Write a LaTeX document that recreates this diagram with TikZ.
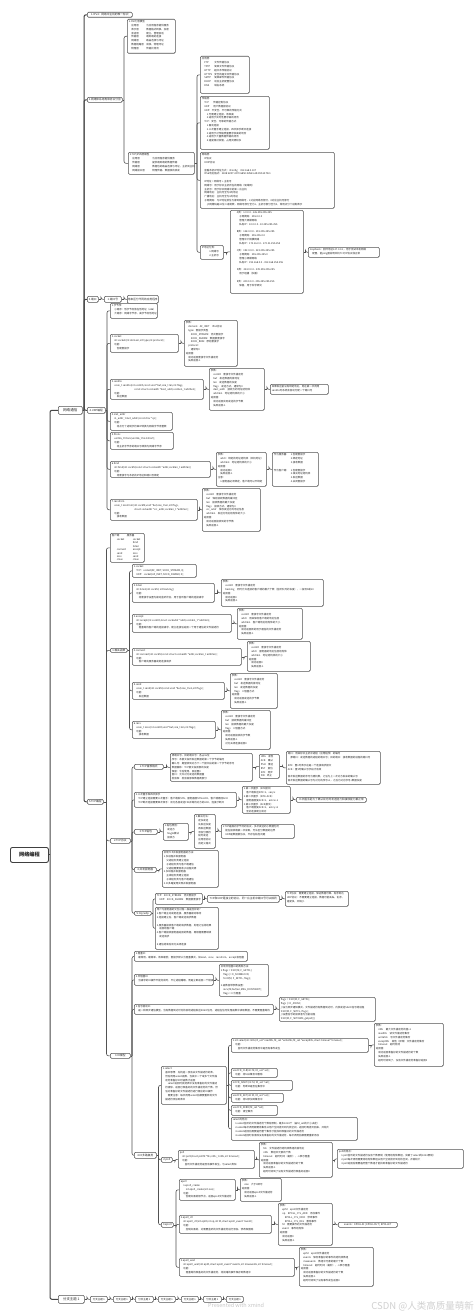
\documentclass[tikz,border=0pt]{standalone}
\usepackage{fontspec}
\setmainfont{Noto Sans CJK SC}
\usetikzlibrary{calc}
\newcommand\idt{\hspace*{1em}}
\newcommand\idtt{\hspace*{2em}}
\newcommand\el{\mbox{}}
\newcommand\mk[2]{\makebox[#1pt][l]{#2}}
\tikzset{
  box/.style={draw=black!68, line width=0.6pt, rounded corners=1.2pt, fill=white, anchor=north west, inner sep=0pt},
  txt/.style={anchor=north west, inner sep=0pt, align=left, text=black!85, font=\fontsize{2.5}{3.8}\selectfont},
  lbl/.style={box, text=black!85, font=\fontsize{2.7}{3}\selectfont},
  conn/.style={draw=black!68, line width=0.6pt},
  trunk/.style={draw=black!72, line width=1pt},
}
\newcommand\bx[7][]{%
  \node[box, minimum width={(#5-#3)*1pt}, minimum height={(#6-#4)*1pt}] (#2) at (#3,#4) {};
  \node[txt,#1] (#2-t) at ([xshift=1.6pt,yshift=-1.5pt]#2.north west) {#7};}
\newcommand\sn[7][]{%
  \node[lbl, minimum width={(#5-#3)*1pt}, minimum height={(#6-#4)*1pt}, #1] (#2) at (#3,#4) {#7};}
\newcommand\tk[2]{\coordinate (#1-k) at (#2,0);}
\newcommand\cn[3][]{%
  \draw[conn,#1] (#2.east) -- (#2.east -| #2-k);
  \draw[conn,rounded corners=2pt,#1] (#2.east -| #2-k) |- (#3.west);}
\begin{document}
\begin{tikzpicture}[x=1pt,y=-1pt]
\fill[white] (0,0) rectangle (474,1314);
\useasboundingbox (0,0) rectangle (474,1314);

% ---------- root and level 1
\node[box, minimum width=38pt, minimum height=15pt, line width=0.9pt, draw=black!75, rounded corners=2pt, font=\fontsize{5.2}{6}\selectfont\bfseries, text=black!85] (root) at (10,847) {网络编程};
\sn[font=\fontsize{3.6}{4}\selectfont]{tx}{58}{406}{82}{414}{网络通信}
\sn[font=\fontsize{3.4}{4}\selectfont]{fz1}{58}{1295}{84}{1303}{分支主题 1}
\sn[font=\fontsize{2.5}{3}\selectfont]{fz2}{90}{1296}{107}{1302}{分支主题 1}
\sn[font=\fontsize{2.5}{3}\selectfont]{fz3}{113}{1296}{130}{1302}{分支主题 1}
\sn[font=\fontsize{2.5}{3}\selectfont]{fz4}{135}{1296}{153}{1302}{分支主题 1}
\sn[font=\fontsize{2.5}{3}\selectfont]{fz5}{158}{1296}{175}{1302}{分支主题 1}
\sn[font=\fontsize{2.5}{3}\selectfont]{fz6}{181}{1296}{198}{1302}{分支主题 1}
\sn[font=\fontsize{2.5}{3}\selectfont]{fz7}{203}{1296}{221}{1302}{分支主题 1}
\sn[font=\fontsize{2.5}{3}\selectfont]{fz8}{226}{1296}{243}{1302}{分支主题 1}

% ---------- level 2
\sn{a1}{87}{12}{132}{17}{1.IPv4：网络中主机的唯一标识}
\sn{a2}{87}{97}{122}{102}{2.网络体系结构和协议分层}
\sn{a3}{87}{296}{98}{302}{3.端口}
\sn{L3}{104}{296}{121}{302}{1.端口号}
\sn{M3}{127}{295}{158}{303}{用来区分不同的应用程序}
\sn{a4}{87}{407}{105}{413}{4.UDP编程}
\sn{a5}{87}{799}{103}{804}{5.TCP编程}

% ---------- network architecture
\bx{B}{127}{19}{175}{53}{1.OSI七层模型\\
\idt\mk{15}{应用层}为应用程序提供服务\\
\idt\mk{15}{表示层}数据格式转换、加密\\
\idt\mk{15}{会话层}建立、管理会话\\
\idt\mk{15}{传输层}端到端的连接\\
\idt\mk{15}{网络层}路由选择与寻址\\
\idt\mk{15}{数据链路层}成帧、物理寻址\\
\idt\mk{15}{物理层}传输比特流}
\bx{D}{128}{152}{194}{174}{2.TCP/IP四层模型\\
\idt\mk{20}{应用层}为应用程序提供服务\\
\idt\mk{20}{传输层}提供端到端的数据传输\\
\idt\mk{20}{网络层}数据包的路由选择与寻址，主机到主机\\
\idt\mk{20}{网络接口层}物理传输、数据帧的收发}
\bx{E}{200}{56}{249}{93}{应用层:\\
\idt\mk{10}{FTP}文件传输协议\\
\idt\mk{10}{TFTP}简单文件传输协议\\
\idt\mk{10}{HTTP}超文本传输协议\\
\idt\mk{10}{HTTPS}安全的超文本传输协议\\
\idt\mk{10}{SMTP}简单邮件传输协议\\
\idt\mk{10}{DHCP}动态主机配置协议\\
\idt\mk{10}{DNS}域名系统}
\bx{F}{200}{96}{269}{149}{传输层:\\
\idt\mk{9}{TCP}传输控制协议\\
\idt\mk{9}{UDP}用户数据报协议\\
\idt UDP：不安全、不可靠的传输方式\\
\idtt 1.无需建立连接，效率高\\
\idtt 2.适用于实时性要求高的场合\\
\idt TCP：安全、可靠的传输方式\\
\idtt 1.面向连接\\
\idtt 2.三次握手建立连接，四次挥手断开连接\\
\idtt 3.适用于对传输质量要求较高的场合\\
\idtt 4.适用于大量数据传输的场合\\
\idtt 5.速度相对较慢，占用资源较多}
\bx{G}{200}{152}{334}{208}{网络层:\\
\idt IP协议\\
\idt ICMP协议\\
\el\\
\idt 查看本机IP地址方式：ifconfig　192.168.0.107\\
\idt IPv6地址格式：2408:8207:2470:6850:4d58:a1b3:b514:f3c1\\
\el\\
\idt IP地址 = 网络号 + 主机号\\
\idt 网络号：用于标识主机所在的网络（局域网）\\
\idt 主机号：用于标识网络中的某一台主机\\
\idt 网络地址：主机号全为0的地址\\
\idt 广播地址：主机号全为1的地址\\
\idt 子网掩码：与IP地址按位与得到网络号，1对应网络号部分，0对应主机号部分\\
\idtt 子网掩码是32位二进制数，网络号部分全为1，主机号部分全为0，常用点分十进制表示}
\bx{I}{200}{245}{223}{259}{IP地址分类：\\
\hspace*{3em}1.网络号\\
\hspace*{3em}2.主机号}
\bx{H}{230}{210}{303}{293}{\idtt A类：1.0.0.0 - 126.255.255.255\\
\hspace*{3em}子网掩码：255.0.0.0\\
\hspace*{3em}管理大规模网络\\
\hspace*{3em}私有IP：10.0.0.0 - 10.255.255.255\\
\el\\
\idtt B类：128.0.0.0 - 191.255.255.255\\
\hspace*{3em}子网掩码：255.255.0.0\\
\hspace*{3em}管理中大规模网络\\
\hspace*{3em}私有IP：172.16.0.0 - 172.31.255.255\\
\el\\
\idtt C类：192.0.0.0 - 223.255.255.255\\
\hspace*{3em}子网掩码：255.255.255.0\\
\hspace*{3em}管理小规模网络\\
\hspace*{3em}私有IP：192.168.0.0 - 192.168.255.255\\
\el\\
\idtt D类：224.0.0.0 - 239.255.255.255\\
\hspace*{3em}用于组播（多播）\\
\el\\
\idtt E类：240.0.0.0 - 255.255.255.255\\
\hspace*{3em}保留，用于科学研究}
\bx{J}{308}{247}{379}{257}{loopback：回环地址127.0.0.1，用于测试本机网络\\
\idt 配置，能ping通说明本机TCP/IP协议栈正常}

% ---------- UDP programming
\bx{N}{110}{303}{157}{318}{1.字节序：\\
\idt 小端序：低字节存放在低地址（x86）\\
\idt 大端序：网络字节序，高字节存低地址}
\bx{S2}{110}{334}{178}{352}{2.socket\\
\idt int socket(int domain,int type,int protocol);\\
\idt 功能：\\
\idtt 创建套接字}
\bx{P2}{184}{320}{237}{366}{参数：\\
\idt domain：AF\_INET　IPv4协议\\
\idt type：套接字类型\\
\idtt SOCK\_STREAM：流式套接字\\
\idtt SOCK\_DGRAM：数据报套接字\\
\idtt SOCK\_RAW：原始套接字\\
\idt protocol：\\
\idtt 通常写0\\
返回值：\\
\idt 成功返回套接字文件描述符\\
\idt 失败返回-1}
\bx{S3}{110}{379}{203}{399}{3.sendto\\
\idt ssize\_t sendto(int sockfd,const void *buf,size\_t len,int flags,\\
\hspace*{9em}const struct sockaddr *dest\_addr,socklen\_t addrlen);\\
\idt 功能：\\
\idtt 发送数据}
\bx{P3}{209}{368}{264}{410}{参数：\\
\idt sockfd　套接字文件描述符\\
\idt buf　发送数据的首地址\\
\idt len　发送数据的长度\\
\idt flags　发送方式，通常为0\\
\idt dest\_addr　接收方的地址结构体\\
\idt addrlen　地址结构体的大小\\
返回值：\\
\idt 成功返回实际发送的字节数\\
\idt 失败返回-1}
\bx{Q3}{270}{384}{328}{394}{如果发送前没有绑定地址，则在第一次调用\\
sendto时系统会自动分配一个端口号}
\bx{S4}{110}{412}{172}{430}{4.inet\_addr\\
\idt in\_addr\_t inet\_addr(const char *cp);\\
\idt 功能：\\
\idtt 将点分十进制字符串IP转换为网络字节序整数}
\bx{S5}{110}{432}{173}{449}{5.htons\\
\idt uint16\_t htons(uint16\_t hostshort);\\
\idt 功能：\\
\idtt 将主机字节序的端口号转换为网络字节序}
\bx{S6}{110}{461}{210}{477}{6.bind\\
\idt int bind(int sockfd,const struct sockaddr *addr,socklen\_t addrlen);\\
\idt 功能：\\
\idtt 将套接字与本机的IP地址和端口号绑定}
\bx{P6}{216}{452}{266}{486}{参数：\\
\idt addr：绑定的地址结构体（本机地址）\\
\idt addrlen：地址结构体的大小\\
返回值：\\
\idt 成功返回0\\
\idt 失败返回-1\\
注意：\\
\idt 1.服务器必须绑定，客户端可以不绑定}
\bx{Q6}{272}{452}{318}{486}{\mk{17}{作为服务器：}1.创建套接字\\
\hspace*{17pt}2.绑定地址\\
\hspace*{17pt}3.接收数据\\
\el\\
\mk{17}{作为客户端：}1.创建套接字\\
\hspace*{17pt}2.填充地址结构体\\
\hspace*{17pt}3.发送数据\\
\hspace*{17pt}4.关闭套接字}
\bx{S7}{110}{499}{197}{520}{7.recvfrom\\
\idt ssize\_t recvfrom(int sockfd,void *buf,size\_t len,int flags,\\
\hspace*{9em}struct sockaddr *src\_addr,socklen\_t *addrlen);\\
\idt 功能：\\
\idtt 接收数据}
\bx{P7}{202}{488}{260}{531}{参数：\\
\idt sockfd　套接字文件描述符\\
\idt buf　保存接收数据的缓冲区\\
\idt len　接收数据的最大长度\\
\idt flags　接收方式，通常为0\\
\idt src\_addr　保存发送方的地址信息\\
\idt addrlen　发送方地址结构体的大小\\
返回值：\\
\idt 成功返回接收到的字节数\\
\idt 失败返回-1}

% ---------- TCP programming
\bx[font=\fontsize{2.5}{3.45}\selectfont]{tbl}{110}{533}{144}{562}{\mk{15}{客户端}服务器\\
\hspace*{5pt}\mk{16}{socket}socket\\
\hspace*{21pt}bind\\
\hspace*{21pt}listen\\
\hspace*{5pt}\mk{16}{connect}accept\\
\hspace*{5pt}\mk{16}{send}recv\\
\hspace*{5pt}\mk{16}{recv}send\\
\hspace*{5pt}\mk{16}{close}close}
\sn{srv}{110}{648}{127}{652}{1.相关函数}
\bx{f1}{132}{564}{196}{577}{1.socket\\
\idt TCP：socket(AF\_INET, SOCK\_STREAM, 0);\\
\idt UDP：socket(AF\_INET, SOCK\_DGRAM, 0);}
\bx{f2}{132}{583}{214}{602}{2.listen\\
\idt int listen(int sockfd, int backlog);\\
\idt 功能：\\
\idtt 将套接字设置为被动监听状态，用于监听客户端的连接请求}
\bx{g2}{221}{579}{323}{606}{参数：\\
\idt sockfd　套接字文件描述符\\
\idt backlog　同时允许连接的客户端的最大个数（监听队列的长度），一般写5或10\\
返回值：\\
\idt 成功返回0\\
\idt 失败返回-1}
\bx{f3}{132}{614}{231}{632}{3.accept\\
\idt int accept(int sockfd,struct sockaddr *addr,socklen\_t *addrlen);\\
\idt 功能：\\
\idtt 阻塞等待客户端的连接请求，建立连接后返回一个用于通信的文件描述符}
\bx{g3}{237}{608}{302}{639}{参数：\\
\idt sockfd　套接字文件描述符\\
\idt addr　用来保存客户端的地址信息\\
\idt addrlen　客户端地址结构体的大小\\
返回值：\\
\idt 成功返回新的用于通信的文件描述符\\
\idt 失败返回-1}
\bx{f4}{132}{648}{241}{665}{4.connect\\
\idt int connect(int sockfd,const struct sockaddr *addr,socklen\_t addrlen);\\
\idt 功能：\\
\idtt 客户端向服务器发起连接请求}
\bx{g4}{247}{641}{310}{671}{参数：\\
\idt sockfd　套接字文件描述符\\
\idt addr　服务器的地址信息结构体\\
\idt addrlen　地址结构体的大小\\
返回值：\\
\idt 成功返回0\\
\idt 失败返回-1}
\bx{f5}{132}{682}{224}{699}{5.send\\
\idt ssize\_t send(int sockfd,const void *buf,size\_t len,int flags);\\
\idt 功能：\\
\idtt 发送数据}
\bx{g5}{230}{673}{277}{708}{参数：\\
\idt sockfd　套接字文件描述符\\
\idt buf　发送数据的首地址\\
\idt len　发送数据的长度\\
\idt flags　0 阻塞方式\\
返回值：\\
\idt 成功返回发送的字节数\\
\idt 失败返回-1}
\bx{f6}{132}{721}{215}{738}{6.recv\\
\idt ssize\_t recv(int sockfd,void *buf,size\_t len,int flags);\\
\idt 功能：\\
\idtt 接收数据}
\bx{g6}{221}{710}{270}{749}{参数：\\
\idt sockfd　套接字文件描述符\\
\idt buf　接收数据的缓冲区\\
\idt len　接收数据的最大长度\\
\idt flags　0 阻塞方式\\
返回值：\\
\idt 成功返回接收的字节数\\
\idt 失败返回-1\\
\idt 对方关闭连接返回0}

\sn{R}{110}{838}{130}{843}{2.TCP协议}
\sn{T1}{134}{764}{163}{769}{1.TCP首部格式}
\bx{X1}{170}{753}{252}{781}{源端口号、目的端口号：各占16位\\
序号：本报文段所发送数据的第一个字节的编号\\
确认号：期望收到对方下一个报文段的第一个字节的序号\\
数据偏移：TCP报文段首部的长度\\
保留：今后使用，目前置0\\
窗口：允许对方发送的数据量\\
检验和：检验首部和数据两部分}
\bx{X2}{259}{754}{279}{778}{URG　紧急\\
ACK　确认\\
PSH　推送\\
RST　复位\\
SYN　同步\\
FIN　终止}
\bx{X3}{286}{751}{380}{784}{端口：用来标识主机中进程（应用程序）的编号\\
\idt 源端口：发送数据的进程的端口号；目的端口：接收数据的进程的端口号\\
\el\\
SYN：置1时表示这是一个连接请求报文\\
ACK：置1时确认号字段才有效\\
\el\\
首次发送数据的序号为随机数，之后为上一次对方发来的确认号\\
首次发送数据的确认号为对方的序号+1，之后为对方序号+数据长度}
\bx{T2}{134}{792}{236}{807}{2.三次握手和四次挥手\\
\idt TCP建立连接需要三次握手：客户端发SYN，服务器回SYN+ACK，客户端再回ACK\\
\idt TCP断开连接需要四次挥手：双方各自发送FIN并等待对方的ACK，连接才断开}
\bx{Y2a}{242}{786}{290}{813}{1.第一次握手（SYN报文）\\
\idt 客户端发送SYN=1，seq=x\\
2.第二次握手（SYN+ACK）\\
\idt 服务器回复ACK=1，ack=x+1\\
3.第三次握手（ACK报文）\\
\idt 客户端回复ACK=1，ack=y+1\\
\idt 至此连接建立成功}
\sn{Y2b}{296}{797}{366}{802}{三次握手是为了确认双方的发送能力和接收能力都正常}
\sn{T3}{134}{829}{157}{834}{3.TCP粘包}
\bx{Z3a}{163}{823}{188}{840}{1.粘包原因：\\
\idt 发送方\\
\idt Nagle算法\\
\idt 接收方}
\bx{Z3b}{194}{814}{215}{848}{2.解决方法：\\
\idt 定长发送\\
\idt 先发送长度\\
\idt 再发送数据\\
\idt 添加分隔符\\
\idt 延时发送\\
\idt 应用层协议\\
\idt 自定义格式}
\bx{Z3c}{221}{824}{294}{838}{1.TCP是面向字节流的协议，多次发送的小数据包可\\
\idt 能在接收端被一次读取，无法区分数据的边界\\
\idt UDP是数据报协议，不存在粘包问题}
\sn{T4}{134}{867}{156}{872}{4.并发服务器}
\bx{Z4}{162}{850}{218}{887}{实现TCP并发服务器的方法：\\
1.多进程并发服务器\\
\idt 父进程负责建立连接\\
\idt 子进程负责与客户端通信\\
\idt 父进程需要回收子进程资源\\
2.多线程并发服务器\\
\idt 主线程负责建立连接\\
\idt 子线程负责与客户端通信\\
3.IO多路复用实现并发服务器}
\sn{T5}{134}{911}{151}{915}{5.tcp/udp}
\bx{T5a}{155}{893}{202}{904}{TCP：SOCK\_STREAM　流式套接字\\
\idt UDP：SOCK\_DGRAM　数据报套接字}
\sn{T5b}{207}{895}{279}{902}{TCP和UDP是独立的协议，同一台主机中端口号可以相同}
\bx{T5c}{285}{891}{348}{906}{TCP协议：需要建立连接，保证数据可靠、有序到达\\
UDP协议：不需要建立连接，数据可能丢失、乱序，\\
速度快，开销小}
\bx{T5d}{155}{907}{218}{949}{用户与服务器的交互过程一般是怎样的？\\
1.客户端主动发起连接，服务器被动等待\\
2.连接建立后，客户端发送请求数据\\
\el\\
3.服务器接收客户端的请求数据，处理之后将结果\\
\idt 返回给客户端\\
4.客户端接收服务器返回的数据，再根据需要继续\\
\idt 发送请求\\
\el\\
5.通信结束后双方关闭连接}

% ---------- IO models
\sn{S}{110}{1053}{130}{1058}{3.IO模型}
\bx{U1}{134}{951}{247}{961}{1.阻塞IO\\
\idt 最常用、最简单、效率最低；套接字默认为阻塞模式，如read、recv、recvfrom、accept会阻塞}
\bx{U2}{134}{974}{213}{985}{2.非阻塞IO\\
\idt 当请求的IO操作不能完成时，不让进程睡眠，而是立即返回一个错误}
\bx{U2a}{219}{964}{268}{996}{实现非阻塞IO的两种方法：\\
1.flags = fcntl(fd, F\_GETFL);\\
\idt flags |= O\_NONBLOCK;\\
\idt fcntl(fd, F\_SETFL, flags);\\
\el\\
2.函数自带参数设置：\\
\idt recv(fd,buf,len,MSG\_DONTWAIT);\\
\idt flags = 0 为阻塞}
\bx{U3}{134}{1004}{273}{1014}{3.信号驱动IO\\
\idt 是一种异步通信模型，当有数据到达时内核会给进程发送SIGIO信号，进程在信号处理函数中读取数据，不需要阻塞等待}
\bx{U3a}{279}{997}{375}{1021}{flags = fcntl(fd, F\_GETFL);\\
flags |= O\_ASYNC;\\
//设为异步通知模式，文件描述符有数据到达时，内核发送SIGIO信号给进程\\
fcntl(fd, F\_SETFL, flags);\\
//设置信号的接收者为当前进程\\
fcntl(fd, F\_SETOWN, getpid());}
\sn{U4}{134}{1152}{156}{1158}{4.IO多路复用}
\bx{V1}{161}{1066}{226}{1104}{1.select\\
\idt 基本思想：先构造一张有关文件描述符的表，\\
\idt 然后调用select函数，当其中一个或多个文件描\\
\idt 述符准备好IO时函数才返回\\
\idtt select返回时会把表中没有准备好的文件描述\\
\idt 符清除，返回已准备好的文件描述符的个数，然\\
\idt 后对准备好的文件描述符进行相应的IO操作\\
\idtt 需要注意：每次调用select前都要重新将文件\\
\idt 描述符添加到表中}
\bx{W1}{231}{1038}{368}{1052}{1.int select(int nfds,fd\_set *readfds,fd\_set *writefds,fd\_set *exceptfds,struct timeval *timeout);\\
\idt 功能：\\
\idtt 监听文件描述符集合中是否有事件发生}
\bx{W1a}{374}{1023}{443}{1066}{参数：\\
\idt nfds　最大文件描述符的值+1\\
\idt readfds　读文件描述符集合\\
\idt writefds　写文件描述符集合\\
\idt exceptfds　其他（异常）文件描述符集合\\
\idt timeout　超时检测\\
返回值：\\
\idt 成功返回准备好的文件描述符的个数\\
\idt 失败返回-1\\
\idt 超时时间到了，没有文件描述符准备好返回0}
\bx{W2}{231}{1068}{277}{1077}{void FD\_CLR(int fd, fd\_set *set);\\
\idt 功能：将fd从集合中删除}
\bx{W3}{231}{1080}{292}{1090}{int FD\_ISSET(int fd, fd\_set *set);\\
\idt 功能：判断fd是否在集合中}
\bx{W4}{231}{1093}{283}{1102}{void FD\_SET(int fd, fd\_set *set);\\
\idt 功能：将fd添加到集合中}
\bx{W5}{231}{1105}{277}{1115}{void FD\_ZERO(fd\_set *set);\\
\idt 功能：清空集合}
\bx{W6}{231}{1117}{357}{1140}{select的特点：\\
\idt 1.select监听的文件描述符个数有限制，最多1024个（由fd\_set的大小决定）\\
\idt 2.select每次调用都要将集合从用户空间拷贝到内核空间，返回时再拷贝回来，开销大\\
\idt 3.select返回后需要遍历整个集合才能找到准备好的文件描述符\\
\idt 4.select返回时会清除没有准备好的文件描述符，每次调用前都需要重新添加}
\sn{V2}{161}{1157}{172}{1162}{2.poll}
\bx{V2a}{178}{1150}{254}{1168}{poll\\
\idt int poll(struct pollfd *fds,nfds\_t nfds,int timeout);\\
\idt 功能：\\
\idtt 监听文件描述符是否有事件发生，与select类似}
\bx{V2b}{259}{1142}{332}{1177}{参数：\\
\idt fds　文件描述符结构体数组的首地址\\
\idt nfds　数组中元素的个数\\
\idt timeout　超时时间（毫秒），-1表示阻塞\\
返回值：\\
\idt 成功返回准备好的文件描述符的个数\\
\idt 失败返回-1\\
\idt 超时时间到了没有文件描述符准备好返回0}
\bx{V2c}{337}{1149}{463}{1168}{poll的特点：\\
\idt 1.poll监听的文件描述符没有个数限制（使用结构体数组，突破了select的1024限制）\\
\idt 2.poll每次调用需要将结构体数组从用户空间拷贝到内核空间，开销较大\\
\idt 3.poll返回后需要遍历整个数组才能找到准备好的文件描述符}
\sn{V3}{161}{1222}{173}{1227}{3.epoll}
\bx{Y1}{179}{1179}{235}{1200}{epoll\\
\idt 1.epoll\_create\\
\idtt int epoll\_create(int size);\\
\idt 功能：\\
\idtt 创建红黑树根节点，返回epoll文件描述符}
\bx{Y1a}{240}{1178}{281}{1201}{参数：\\
\idt size　大于0即可\\
返回值：\\
\idt 成功返回epoll文件描述符\\
\idt 失败返回-1}
\bx{Y2}{179}{1215}{271}{1233}{2.epoll\_ctl\\
\idt int epoll\_ctl(int epfd,int op,int fd,struct epoll\_event *event);\\
\idt 功能：\\
\idtt 控制红黑树，对需要监听的文件描述符进行添加、修改和删除}
\bx{Y2p}{278}{1203}{332}{1245}{参数：\\
\idt epfd　epoll文件描述符\\
\idt op　EPOLL\_CTL\_ADD　添加事件\\
\idtt EPOLL\_CTL\_MOD　修改事件\\
\idtt EPOLL\_CTL\_DEL　删除事件\\
\idt fd　需要操作的文件描述符\\
\idt event　事件结构体\\
返回值：\\
\idt 成功返回0\\
\idt 失败返回-1}
\sn[font=\fontsize{2.5}{3}\selectfont]{Y2q}{338}{1222}{397}{1227}{events：EPOLLIN | EPOLLOUT | EPOLLET}
\bx{Y3}{179}{1258}{294}{1276}{3.epoll\_wait\\
\idt int epoll\_wait(int epfd,struct epoll\_event *events,int maxevents,int timeout);\\
\idt 功能：\\
\idtt 阻塞等待准备好的文件描述符，将就绪的事件保存到数组中}
\bx{Y3p}{299}{1247}{373}{1286}{参数：\\
\idt epfd　epoll文件描述符\\
\idt events　保存准备好的事件的结构体数组\\
\idt maxevents　数组中元素的最大个数\\
\idt timeout　超时时间（毫秒），-1表示阻塞\\
返回值：\\
\idt 成功返回准备好的文件描述符的个数\\
\idt 失败返回-1\\
\idt 超时时间到了没有事件发生返回0}

% ---------- watermarks
\node[font=\fontsize{5.5}{6}\selectfont, text=black!22, anchor=west, inner sep=0pt] (wm1) at (208,1305) {Presented with xmind};
\node[font=\fontsize{9.5}{10}\selectfont, text=black!18, anchor=east, inner sep=0pt] (wm2) at (474,1306.5) {CSDN @人类高质量萌新};

% ---------- connectors
\tk{root}{50}
\cn[trunk]{root}{tx} \cn[trunk]{root}{fz1}
\tk{tx}{84}
\foreach \c in {a1,a2,a3,a4,a5} {\cn[trunk]{tx}{\c}}
\tk{a2}{124} \cn{a2}{B} \cn{a2}{D}
\tk{D}{197} \foreach \c in {E,F,G,I} {\cn{D}{\c}}
\tk{I}{226.5} \cn{I}{H}
\tk{H}{305.5} \cn{H}{J}
\tk{a3}{101} \cn{a3}{L3}
\tk{L3}{124} \cn{L3}{M3}
\tk{a4}{107} \foreach \c in {N,S2,S3,S4,S5,S6,S7} {\cn{a4}{\c}}
\tk{S2}{181} \cn{S2}{P2}
\tk{S3}{206} \cn{S3}{P3}
\tk{P3}{267} \cn{P3}{Q3}
\tk{S6}{213} \cn{S6}{P6}
\tk{P6}{269} \cn{P6}{Q6}
\tk{S7}{199.5} \cn{S7}{P7}
\tk{a5}{106.5} \foreach \c in {tbl,srv,R,S} {\cn{a5}{\c}}
\tk{srv}{129.5} \foreach \c in {f1,f2,f3,f4,f5,f6} {\cn{srv}{\c}}
\tk{f2}{217.5} \cn{f2}{g2}
\tk{f3}{234} \cn{f3}{g3}
\tk{f4}{244} \cn{f4}{g4}
\tk{f5}{227} \cn{f5}{g5}
\tk{f6}{218} \cn{f6}{g6}
\tk{R}{132} \foreach \c in {T1,T2,T3,T4,T5} {\cn{R}{\c}}
\tk{T1}{166.5} \cn{T1}{X1}
\tk{X1}{255.5} \cn{X1}{X2}
\tk{X2}{282.5} \cn{X2}{X3}
\tk{T2}{239} \cn{T2}{Y2a}
\tk{Y2a}{293} \cn{Y2a}{Y2b}
\tk{T3}{160} \cn{T3}{Z3a}
\tk{Z3a}{191} \cn{Z3a}{Z3b}
\tk{Z3b}{218} \cn{Z3b}{Z3c}
\tk{T4}{159} \cn{T4}{Z4}
\tk{T5}{153} \cn{T5}{T5a} \cn{T5}{T5d}
\tk{T5a}{204.5} \cn{T5a}{T5b}
\tk{T5b}{282} \cn{T5b}{T5c}
\tk{S}{132} \foreach \c in {U1,U2,U3,U4} {\cn{S}{\c}}
\tk{U2}{216} \cn{U2}{U2a}
\tk{U3}{276} \cn{U3}{U3a}
\tk{U4}{158.5} \foreach \c in {V1,V2,V3} {\cn{U4}{\c}}
\tk{V1}{228.5} \foreach \c in {W1,W2,W3,W4,W5,W6} {\cn{V1}{\c}}
\tk{W1}{371} \cn{W1}{W1a}
\tk{V2}{175} \cn{V2}{V2a}
\tk{V2a}{256.5} \cn{V2a}{V2b}
\tk{V2b}{334.5} \cn{V2b}{V2c}
\tk{V3}{176} \foreach \c in {Y1,Y2,Y3} {\cn{V3}{\c}}
\tk{Y1}{237.5} \cn{Y1}{Y1a}
\tk{Y2}{274.5} \cn{Y2}{Y2p}
\tk{Y2p}{335} \cn{Y2p}{Y2q}
\tk{Y3}{296.5} \cn{Y3}{Y3p}
\tk{fz1}{87} \cn{fz1}{fz2}
\tk{fz2}{110} \cn{fz2}{fz3}
\tk{fz3}{132.5} \cn{fz3}{fz4}
\tk{fz4}{155.5} \cn{fz4}{fz5}
\tk{fz5}{178} \cn{fz5}{fz6}
\tk{fz6}{200.5} \cn{fz6}{fz7}
\tk{fz7}{223.5} \cn{fz7}{fz8}
\end{tikzpicture}
\end{document}
